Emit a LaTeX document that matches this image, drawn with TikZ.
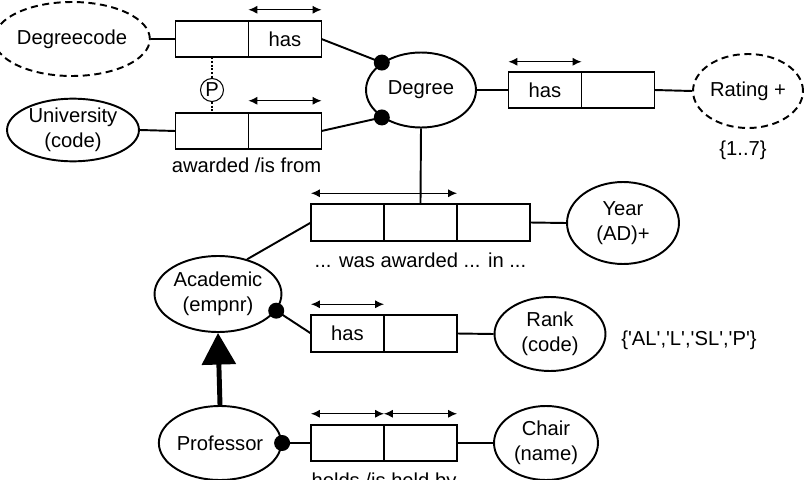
\documentclass[tikz,border=0pt]{standalone}
\usepackage{fontspec}
\setmainfont{Liberation Sans}
\usepackage{tikz}
\usetikzlibrary{shapes.geometric}
\usetikzlibrary{arrows.meta}
\usetikzlibrary{positioning}

\tikzset{
  obj/.style={draw, ellipse, line width=1.1pt, inner sep=0pt, align=center},
  valobj/.style={obj, dash pattern=on 4pt off 2.6pt},
  cell/.style={draw, rectangle, line width=1.1pt, minimum width=1.46cm, minimum height=0.73cm, inner sep=0pt, outer sep=0pt},
  conn/.style={line width=1.1pt},
  uc/.style={line width=0.6pt, {Latex[length=5pt,width=4.5pt]}-{Latex[length=5pt,width=4.5pt]}},
  dot/.style={circle, fill=black, inner sep=0pt, minimum size=0.32cm}
}

\begin{document}
\begin{tikzpicture}[x=0.02cm, y=-0.02cm, font=\fontsize{11.5}{14.5}\selectfont]
\useasboundingbox (0,0) rectangle (809,480);
\node[valobj, minimum width=2.64cm, minimum height=1.48cm] (degcode) at (72,39) {Degreecode};
\node[obj, minimum width=2.64cm, minimum height=1.24cm] (univ) at (73,130) {University\\(code)};
\node[obj, minimum width=2.2cm, minimum height=1.5cm] (degree) at (421,90) {Degree};
\node[valobj, minimum width=2.2cm, minimum height=1.48cm] (rating) at (748,91) {Rating +};
\node[obj, minimum width=2.24cm, minimum height=1.64cm] (year) at (623,223) {Year\\(AD)+};
\node[obj, minimum width=2.22cm, minimum height=1.48cm] (rank) at (550,334) {Rank\\(code)};
\node[obj, minimum width=2.54cm, minimum height=1.52cm] (academic) at (218,294) {Academic\\(empnr)};
\node[obj, minimum width=2.3cm, minimum height=1.48cm] (professor) at (220,443) {Professor};
\node[obj, minimum width=2.08cm, minimum height=1.48cm] (chair) at (546,443) {Chair\\(name)};

\node[cell] (hasA1) at (212,39) {};
\node[cell, right=0pt of hasA1] (hasA2) {has};
\node[cell] (awd1) at (212,131) {};
\node[cell, right=0pt of awd1] (awd2) {};
\node[cell] (rat1) at (545,90) {has};
\node[cell, right=0pt of rat1] (rat2) {};
\node[cell] (wa1) at (347.5,222.5) {};
\node[cell, right=0pt of wa1] (wa2) {};
\node[cell, right=0pt of wa2] (wa3) {};
\node[cell] (rk1) at (347.5,333.5) {has};
\node[cell, right=0pt of rk1] (rk2) {};
\node[cell] (ch1) at (347.5,443) {};
\node[cell, right=0pt of ch1] (ch2) {};

\node[circle, draw, line width=0.6pt, minimum size=0.46cm, inner sep=0pt] (pc) at (212,90) {P};
\draw[line width=1.1pt, densely dotted] (hasA1.south) -- (pc.north);
\draw[line width=1.1pt, densely dotted] (pc.south) -- (awd1.north);

\draw[conn] (degcode.east) -- (hasA1.west);
\draw[conn] (hasA2.east) -- (degree.145);
\draw[conn] (univ.east) -- (awd1.west);
\draw[conn] (awd2.east) -- (degree.215);
\draw[conn] (degree.east) -- (rat1.west);
\draw[conn] (rat2.east) -- (rating.west);
\draw[conn] (degree.south) -- (wa2.north);
\draw[conn] (wa1.west) -- (academic.50);
\draw[conn] (wa3.east) -- (year.west);
\draw[conn] (academic.-16) -- (rk1.west);
\draw[conn] (rk2.east) -- (rank.west);
\draw[conn] (professor.east) -- (ch1.west);
\draw[conn] (ch2.east) -- (chair.west);
\node[dot] (dgtop) at (degree.145) {};
\node[dot] (dgbot) at (degree.215) {};
\node[dot] (acdot) at (academic.-16) {};
\node[dot] (prdot) at (professor.east) {};

\draw[line width=2.8pt, -{Triangle[length=18pt,width=19pt]}] (professor.north) -- (academic.south);

\draw[uc] ([yshift=0.22cm]hasA2.north west) -- ([yshift=0.22cm]hasA2.north east);
\draw[uc] ([yshift=0.24cm]awd2.north west) -- ([yshift=0.24cm]awd2.north east);
\draw[uc] ([yshift=0.2cm]rat1.north west) -- ([yshift=0.2cm]rat1.north east);
\draw[uc] ([yshift=0.22cm]wa1.north west) -- ([yshift=0.22cm]wa2.north east);
\draw[uc] ([yshift=0.22cm]rk1.north west) -- ([yshift=0.22cm]rk1.north east);
\draw[uc] ([yshift=0.22cm]ch1.north west) -- ([yshift=0.22cm]ch1.north east);
\draw[uc] ([yshift=0.22cm]ch2.north west) -- ([yshift=0.22cm]ch2.north east);

\node[anchor=north east, inner sep=0pt] (awlbl) at ([yshift=-0.16cm]awd2.south east) {awarded /is from};
\node[anchor=north, inner sep=0pt] (walbl) at ([yshift=-0.24cm]wa2.south) {... was awarded ... in ...};
\node[anchor=north, inner sep=0pt] (hlbl) at ([yshift=-0.22cm]ch2.south west) {holds /is held by};
\node (rng) at (743,150) {\{1..7\}};
\node (rkval) at (689,340) {\{\textquotesingle AL\textquotesingle,\textquotesingle L\textquotesingle,\textquotesingle SL\textquotesingle,\textquotesingle P\textquotesingle\}};
\end{tikzpicture}
\end{document}
